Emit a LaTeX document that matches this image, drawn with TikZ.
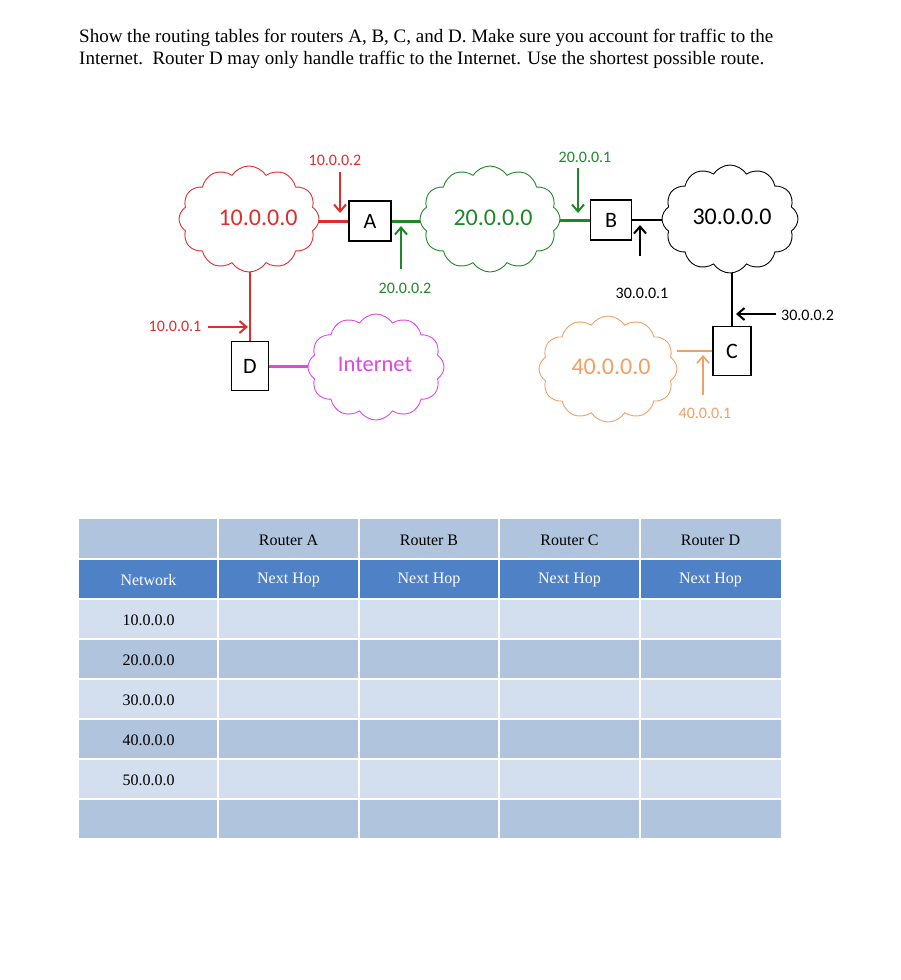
\documentclass[tikz,border=0pt]{standalone}
\usepackage{fontspec}
\setmainfont{Liberation Serif}
\newfontfamily\calfont{Carlito}
\usetikzlibrary{shapes.symbols,arrows.meta}
\definecolor{netred}{RGB}{222,45,45}
\definecolor{netgreen}{RGB}{30,135,40}
\definecolor{netorange}{RGB}{240,160,100}
\definecolor{netmag}{RGB}{225,70,225}
\definecolor{hdrlight}{RGB}{176,196,222}
\definecolor{hdrdark}{RGB}{79,129,199}
\definecolor{rowlight}{RGB}{211,223,238}
\begin{document}
\begin{tikzpicture}[x=1pt,y=-1pt,
  cloudnode/.style={cloud,cloud puffs=12,cloud puff arc=115,draw,line width=0.9pt,inner sep=0pt},
  netlabel/.style={inner sep=0pt,font=\calfont\fontsize{24}{24}\selectfont},
  router/.style={draw,line width=1.4pt,fill=white,inner sep=0pt,font=\calfont\fontsize{22}{22}\selectfont},
  ip/.style={font=\calfont\fontsize{16}{16}\selectfont,inner sep=0pt},
  link/.style={line width=3pt},
  ptr/.style={line width=2pt,-{Straight Barb[length=7pt,width=12pt]}},
  cellt/.style={font=\fontsize{16}{16}\selectfont,inner sep=0pt},
  intro/.style={font=\fontsize{19}{19}\selectfont,inner sep=0pt,anchor=base west}]
\useasboundingbox (0,0) rectangle (901,980);
% intro text
\node[intro] (t1) at (79,42) {Show the routing tables for routers A, B, C, and D. Make sure you account for traffic to the};
\node[intro] (t2) at (79,64) {Internet.\ \ Router D may only handle traffic to the Internet. Use the shortest possible route.};
% clouds
\node[cloudnode,draw=netred,minimum width=140,minimum height=106] (c10) at (249,219) {};
\node[cloudnode,draw=netgreen,minimum width=140,minimum height=106] (c20) at (490,219) {};
\node[cloudnode,draw=black,minimum width=136,minimum height=108] (c30) at (730,219) {};
\node[cloudnode,draw=netmag,minimum width=136,minimum height=106] (cI) at (376,367) {};
\node[cloudnode,draw=netorange,minimum width=138,minimum height=106] (c40) at (608,369) {};
\node[netlabel,text=netred] (t10) at (258,218) {10.0.0.0};
\node[netlabel,text=netgreen] (t20) at (493,218) {20.0.0.0};
\node[netlabel,text=black] (t30) at (732,217) {30.0.0.0};
\node[netlabel,text=netmag,font=\calfont\fontsize{22.5}{22.5}\selectfont] (tI) at (375,364) {Internet};
\node[netlabel,text=netorange] (t40) at (611,367) {40.0.0.0};
% routers
\node[router,minimum width=42,minimum height=40] (A) at (370,221) {A};
\node[router,minimum width=41,minimum height=40] (B) at (611,220) {B};
\node[router,minimum width=38,minimum height=49] (C) at (732,351) {C};
\node[router,minimum width=37,minimum height=49] (D) at (250,366) {D};
% links
\draw[link,netred] (A.west) -- (A.west -| c10.east);
\draw[link,netgreen] (A.east) -- (A.east -| c20.west);
\draw[link,netgreen] (B.west) -- (B.west -| c20.east);
\draw[line width=2pt,black] (B.east) -- (B.east -| c30.west);
\draw[line width=2pt,black] (C.north) -- (C.north |- c30.south);
\draw[link,netred,line width=2.2pt] (D.north) -- (D.north |- c10.south);
\draw[link,netmag] (D.east) -- (D.east -| cI.west);
\draw[link,netorange,line width=2pt] (C.west) -- (C.west -| c40.east);
% address pointers
\node[ip,text=netred] (l1) at (335,160) {10.0.0.2};
\coordinate (p1s) at (340,172); \coordinate (p1e) at (340,213);
\draw[ptr,netred] (p1s) -- (p1e);
\node[ip,text=netgreen] (l2) at (405,288) {20.0.0.2};
\coordinate (p2s) at (401,269); \coordinate (p2e) at (401,226);
\draw[ptr,netgreen] (p2s) -- (p2e);
\node[ip,text=netgreen] (l3) at (585,157) {20.0.0.1};
\coordinate (p3s) at (578,168); \coordinate (p3e) at (578,213);
\draw[ptr,netgreen] (p3s) -- (p3e);
\node[ip,text=black] (l4) at (642,293) {30.0.0.1};
\coordinate (p4s) at (640,256); \coordinate (p4e) at (640,225);
\draw[ptr,black] (p4s) -- (p4e);
\node[ip,text=black,anchor=west] (l5) at (781,315) {30.0.0.2};
\coordinate (p5s) at (776,314); \coordinate (p5e) at (736,314);
\draw[ptr,black] (p5s) -- (p5e);
\node[ip,text=netorange] (l6) at (705,413) {40.0.0.1};
\coordinate (p6s) at (703,395); \coordinate (p6e) at (703,355);
\draw[ptr,netorange,line width=1.6pt] (p6s) -- (p6e);
\node[ip,text=netred] (l7) at (175,326) {10.0.0.1};
\coordinate (p7s) at (208,327); \coordinate (p7e) at (248,327);
\draw[ptr,netred] (p7s) -- (p7e);
% table backgrounds
\fill[hdrlight] (79,519) rectangle (781,559);
\fill[hdrdark] (79,559) rectangle (781,599);
\fill[rowlight] (79,599) rectangle (781,639);
\fill[hdrlight] (79,639) rectangle (781,679);
\fill[rowlight] (79,679) rectangle (781,719);
\fill[hdrlight] (79,719) rectangle (781,759);
\fill[rowlight] (79,759) rectangle (781,799);
\fill[hdrlight] (79,799) rectangle (781,838);
\foreach \x in {218,359,499,640} \draw[white,line width=1.5pt] (\x,519) -- (\x,838);
\foreach \y in {559,599,639,679,719,759,799} \draw[white,line width=1.5pt] (79,\y) -- (781,\y);
% table text
\node[cellt] (hA) at (288.5,540) {Router A};
\node[cellt] (hB) at (429,540) {Router B};
\node[cellt] (hC) at (569.5,540) {Router C};
\node[cellt] (hD) at (710.5,540) {Router D};
\node[cellt,text=white] (hN) at (148.5,580) {Network};
\node[cellt,text=white] (n1) at (288.5,580) {Next Hop};
\node[cellt,text=white] (n2) at (429,580) {Next Hop};
\node[cellt,text=white] (n3) at (569.5,580) {Next Hop};
\node[cellt,text=white] (n4) at (710.5,580) {Next Hop};
\node[cellt] (r1) at (148.5,620) {10.0.0.0};
\node[cellt] (r2) at (148.5,660) {20.0.0.0};
\node[cellt] (r3) at (148.5,700) {30.0.0.0};
\node[cellt] (r4) at (148.5,740) {40.0.0.0};
\node[cellt] (r5) at (148.5,780) {50.0.0.0};
\end{tikzpicture}
\end{document}
